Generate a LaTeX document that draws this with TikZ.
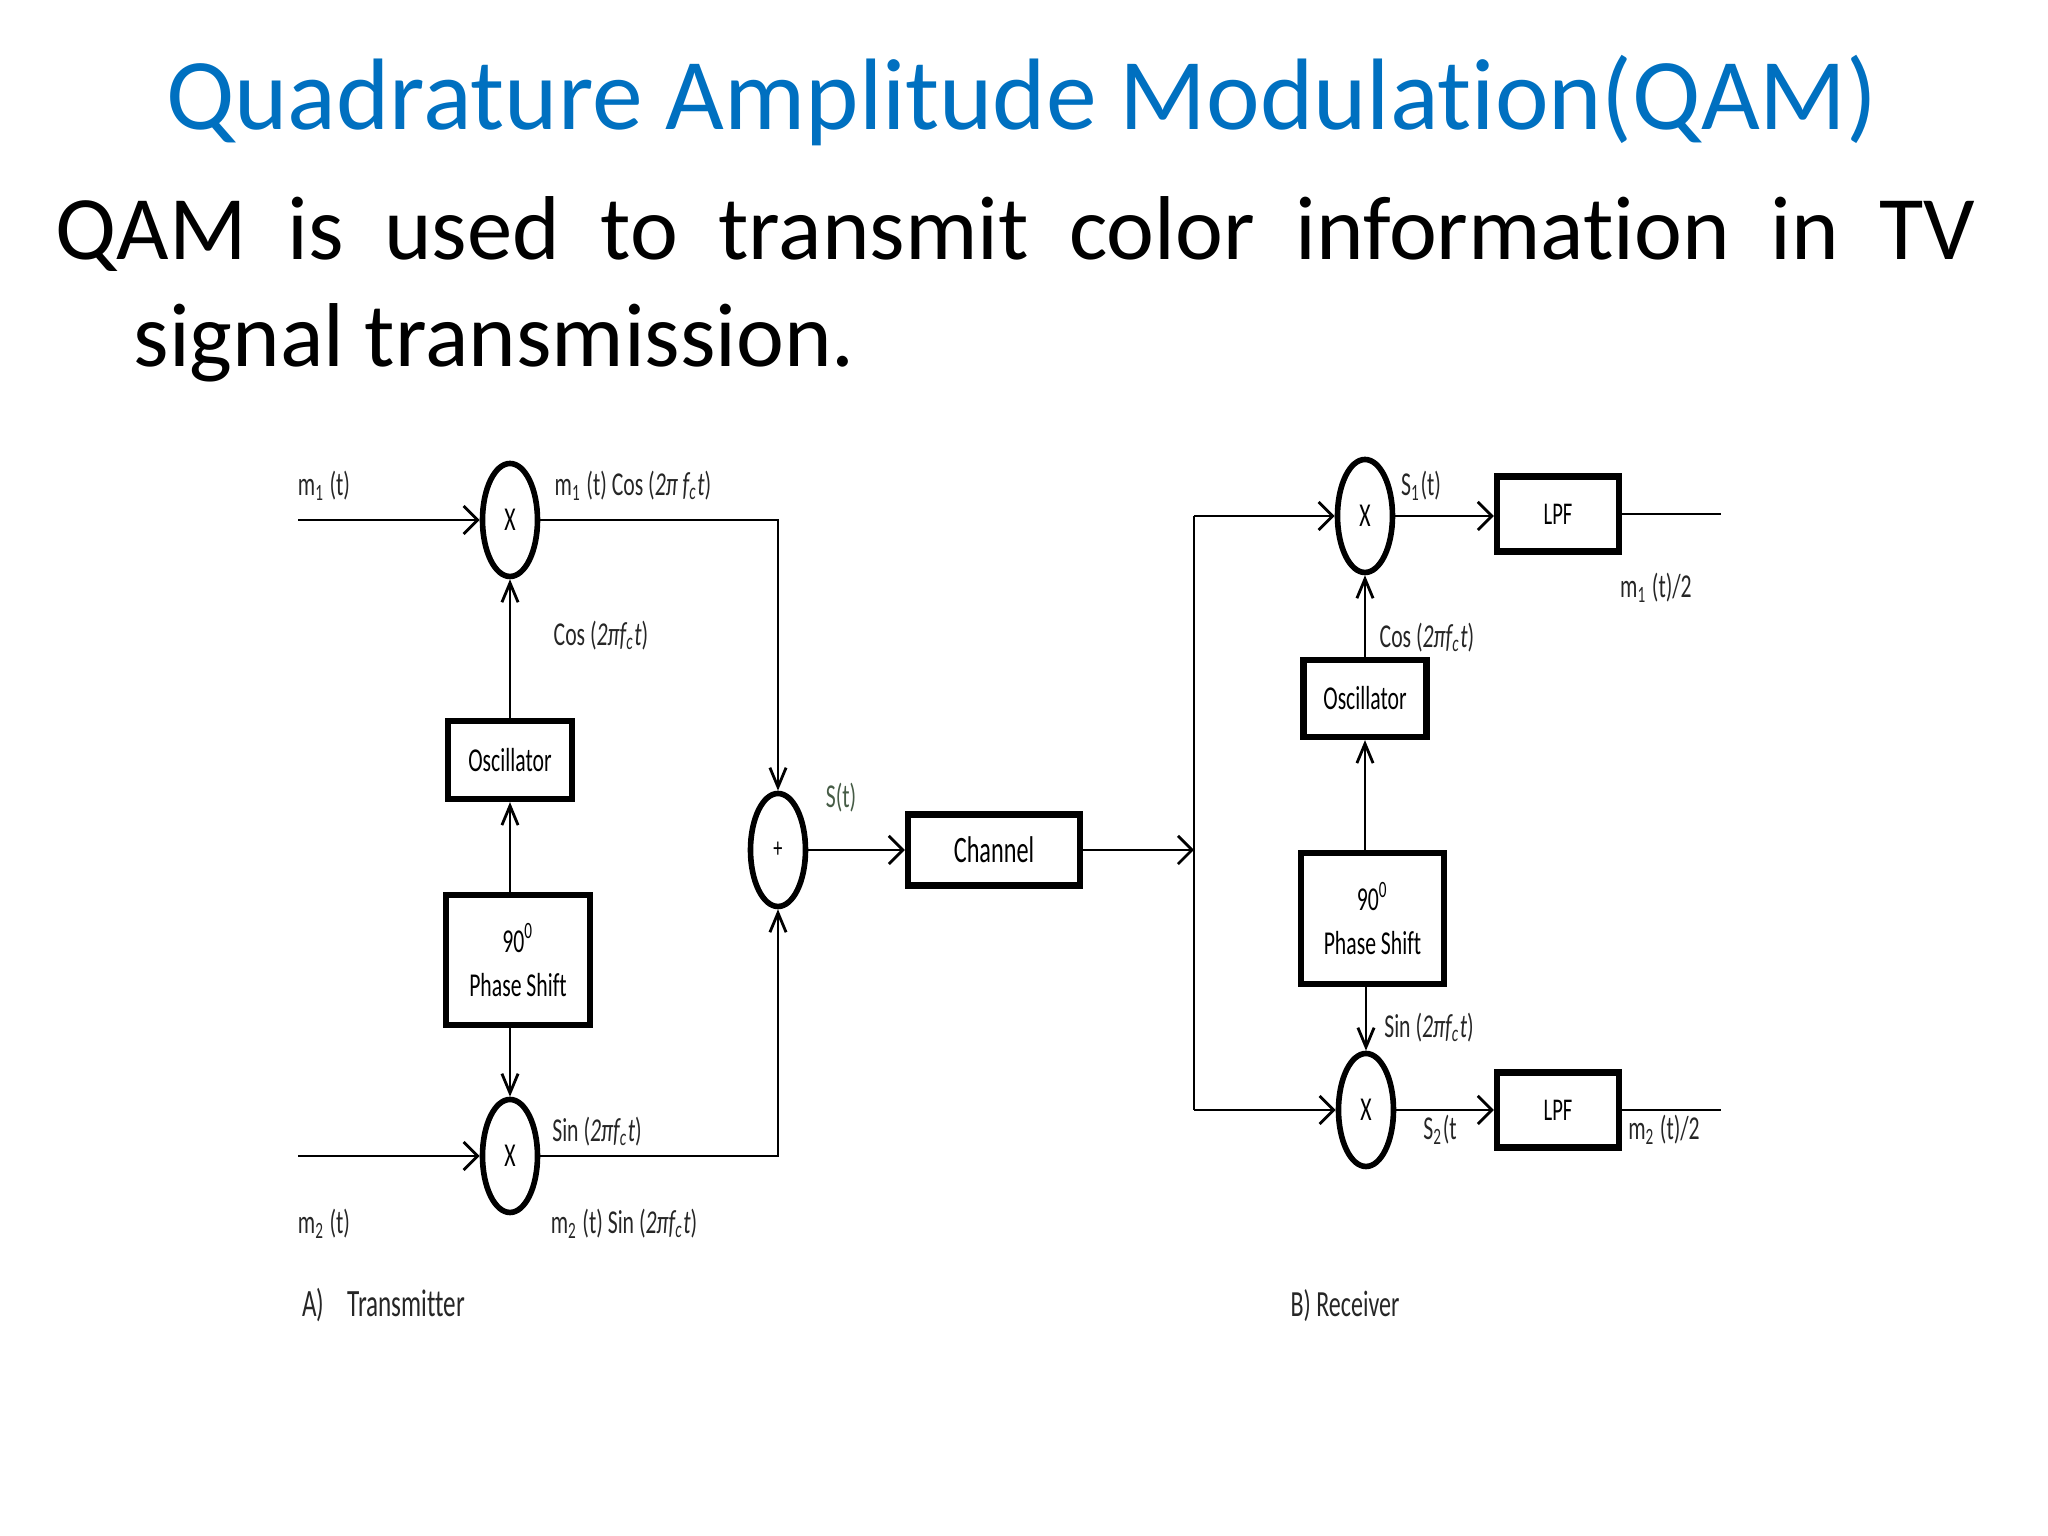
\documentclass[tikz,border=0pt]{standalone}
\usepackage{fontspec}
\setmainfont{Carlito}[Ligatures={NoCommon,NoRare}]
\newfontfamily\dgfont[FakeStretch=0.65,Ligatures={NoCommon,NoRare}]{Carlito}
\usepackage{xcolor}
\usepackage{tikz}
\usetikzlibrary{positioning,arrows.meta,shapes.geometric}
\definecolor{titleblue}{RGB}{0,112,192}
\definecolor{sgreen}{RGB}{70,92,70}

\begin{document}
\begin{tikzpicture}[
  mixer/.style={ellipse,draw,line width=1.6pt,minimum width=0.55cm,minimum height=1.13cm,inner sep=0pt,font=\dgfont\fontsize{9.5}{11}\selectfont},
  block/.style={rectangle,draw,line width=1.8pt,inner sep=0pt,align=center,font=\dgfont\fontsize{9.5}{12.5}\selectfont},
  lbl/.style={inner sep=1pt,text=black!85,font=\dgfont\fontsize{9.5}{11}\selectfont},
  wire/.style={line width=0.8pt},
  hsig/.style={wire,-{Straight Barb[length=4pt,width=8pt]}},
  vsig/.style={wire,-{Straight Barb[length=5.5pt,width=4.6pt]}}
]
\useasboundingbox (0,0) rectangle (20.48,15.36);
% Heading
\node[anchor=base,inner sep=0,text=titleblue,font=\fontsize{28.9}{34}\selectfont] (title) at (10.22,14.06) {Quadrature Amplitude Modulation(QAM)};
\node[anchor=base west,inner sep=0,font=\fontsize{25.8}{30}\selectfont] (line1) at (0.55,12.76) {\makebox[19.2cm][s]{QAM is used to transmit color information in TV}};
\node[anchor=base west,inner sep=0,font=\fontsize{25.8}{30}\selectfont] (line2) at (1.33,11.69) {signal transmission.};
% Transmitter
\node[mixer] (mixA) at (5.10,10.16) {X};
\node[block,minimum width=1.24cm,minimum height=0.78cm] (oscA) at (5.10,7.76) {Oscillator};
\node[block,minimum width=1.44cm,minimum height=1.30cm] (phA) at (5.18,5.76) {90\textsuperscript{0}\\Phase Shift};
\node[mixer] (mixB) at (5.10,3.80) {X};
\coordinate (m1in) at (2.98,10.16);
\coordinate (m2in) at (2.98,3.80);
% Adder and channel
\node[mixer,font=\dgfont\fontsize{8}{9}\selectfont] (sum) at (7.78,6.86) {+};
\node[block,minimum width=1.72cm,minimum height=0.71cm,font=\dgfont\fontsize{10.6}{12}\selectfont] (chan) at (9.94,6.86) {Channel};
\coordinate (split) at (11.94,6.86);
\coordinate (splitT) at (11.94,10.20);
\coordinate (splitB) at (11.94,4.26);
% Receiver
\node[mixer] (mixC) at (13.65,10.20) {X};
\node[block,minimum width=1.22cm,minimum height=0.75cm,font=\dgfont\fontsize{9}{11}\selectfont] (lpfA) at (15.58,10.22) {LPF};
\node[block,minimum width=1.23cm,minimum height=0.77cm] (oscB) at (13.65,8.375) {Oscillator};
\node[block,minimum width=1.43cm,minimum height=1.31cm] (phB) at (13.725,6.175) {90\textsuperscript{0}\\Phase Shift};
\node[mixer] (mixD) at (13.66,4.26) {X};
\node[block,minimum width=1.22cm,minimum height=0.75cm,font=\dgfont\fontsize{9}{11}\selectfont] (lpfB) at (15.58,4.26) {LPF};
\coordinate (out1) at (17.21,10.22);
\coordinate (out2) at (17.21,4.26);
% Connectors
\draw[hsig] (m1in) -- (mixA);
\draw[vsig] (mixA) -| (sum);
\draw[vsig] (oscA) -- (mixA);
\draw[vsig] (phA.north -| oscA) -- (oscA);
\draw[vsig] (phA.south -| mixB) -- (mixB);
\draw[hsig] (m2in) -- (mixB);
\draw[vsig] (mixB) -| (sum);
\draw[hsig] (sum) -- (chan);
\draw[hsig] (chan) -- (split);
\draw[wire] (splitT) -- (splitB);
\draw[hsig] (splitT) -- (mixC);
\draw[hsig] (splitB) -- (mixD);
\draw[hsig] (mixC) -- (mixC -| lpfA.west);
\draw[wire] (lpfA) -- (out1);
\draw[vsig] (oscB) -- (mixC);
\draw[vsig] (phB.north -| oscB) -- (oscB);
\draw[vsig] (phB.south -| mixD) -- (mixD);
\draw[hsig] (mixD) -- (lpfB);
\draw[wire] (lpfB) -- (out2);
% Signal labels
\node[lbl] (m1lab) at (3.24,10.50) {m\textsubscript{1} (t)};
\node[lbl] (m1cos) at (6.33,10.50) {m\textsubscript{1} (t) Cos (\textit{2π f\textsubscript{c}t})};
\node[lbl] (cosA) at (6.01,9.00) {Cos (\textit{2πf\textsubscript{c}t})};
\node[lbl] (sinA) at (5.97,4.04) {Sin (\textit{2πf\textsubscript{c}t})};
\node[lbl] (m2lab) at (3.24,3.12) {m\textsubscript{2} (t)};
\node[lbl] (m2sin) at (6.24,3.12) {m\textsubscript{2} (t) Sin (\textit{2πf\textsubscript{c}t})};
\node[lbl,text=sgreen] (slab) at (8.41,7.38) {S(t)};
\node[lbl] (s1lab) at (14.21,10.50) {S\textsubscript{1}(t)};
\node[lbl] (m1half) at (16.56,9.48) {m\textsubscript{1} (t)/2};
\node[lbl] (cosB) at (14.27,8.98) {Cos (\textit{2πf\textsubscript{c}t})};
\node[lbl] (sinB) at (14.29,5.08) {Sin (\textit{2πf\textsubscript{c}t})};
\node[lbl] (s2lab) at (14.40,4.06) {S\textsubscript{2}(t};
\node[lbl] (m2half) at (16.64,4.06) {m\textsubscript{2} (t)/2};
% Section captions
\node[lbl,anchor=west,font=\dgfont\fontsize{11}{12}\selectfont] (txlab) at (2.98,2.31) {A)\hspace{0.6em}Transmitter};
\node[lbl,font=\dgfont\fontsize{10.5}{12}\selectfont] (rxlab) at (13.45,2.30) {B) Receiver};
\end{tikzpicture}
\end{document}
